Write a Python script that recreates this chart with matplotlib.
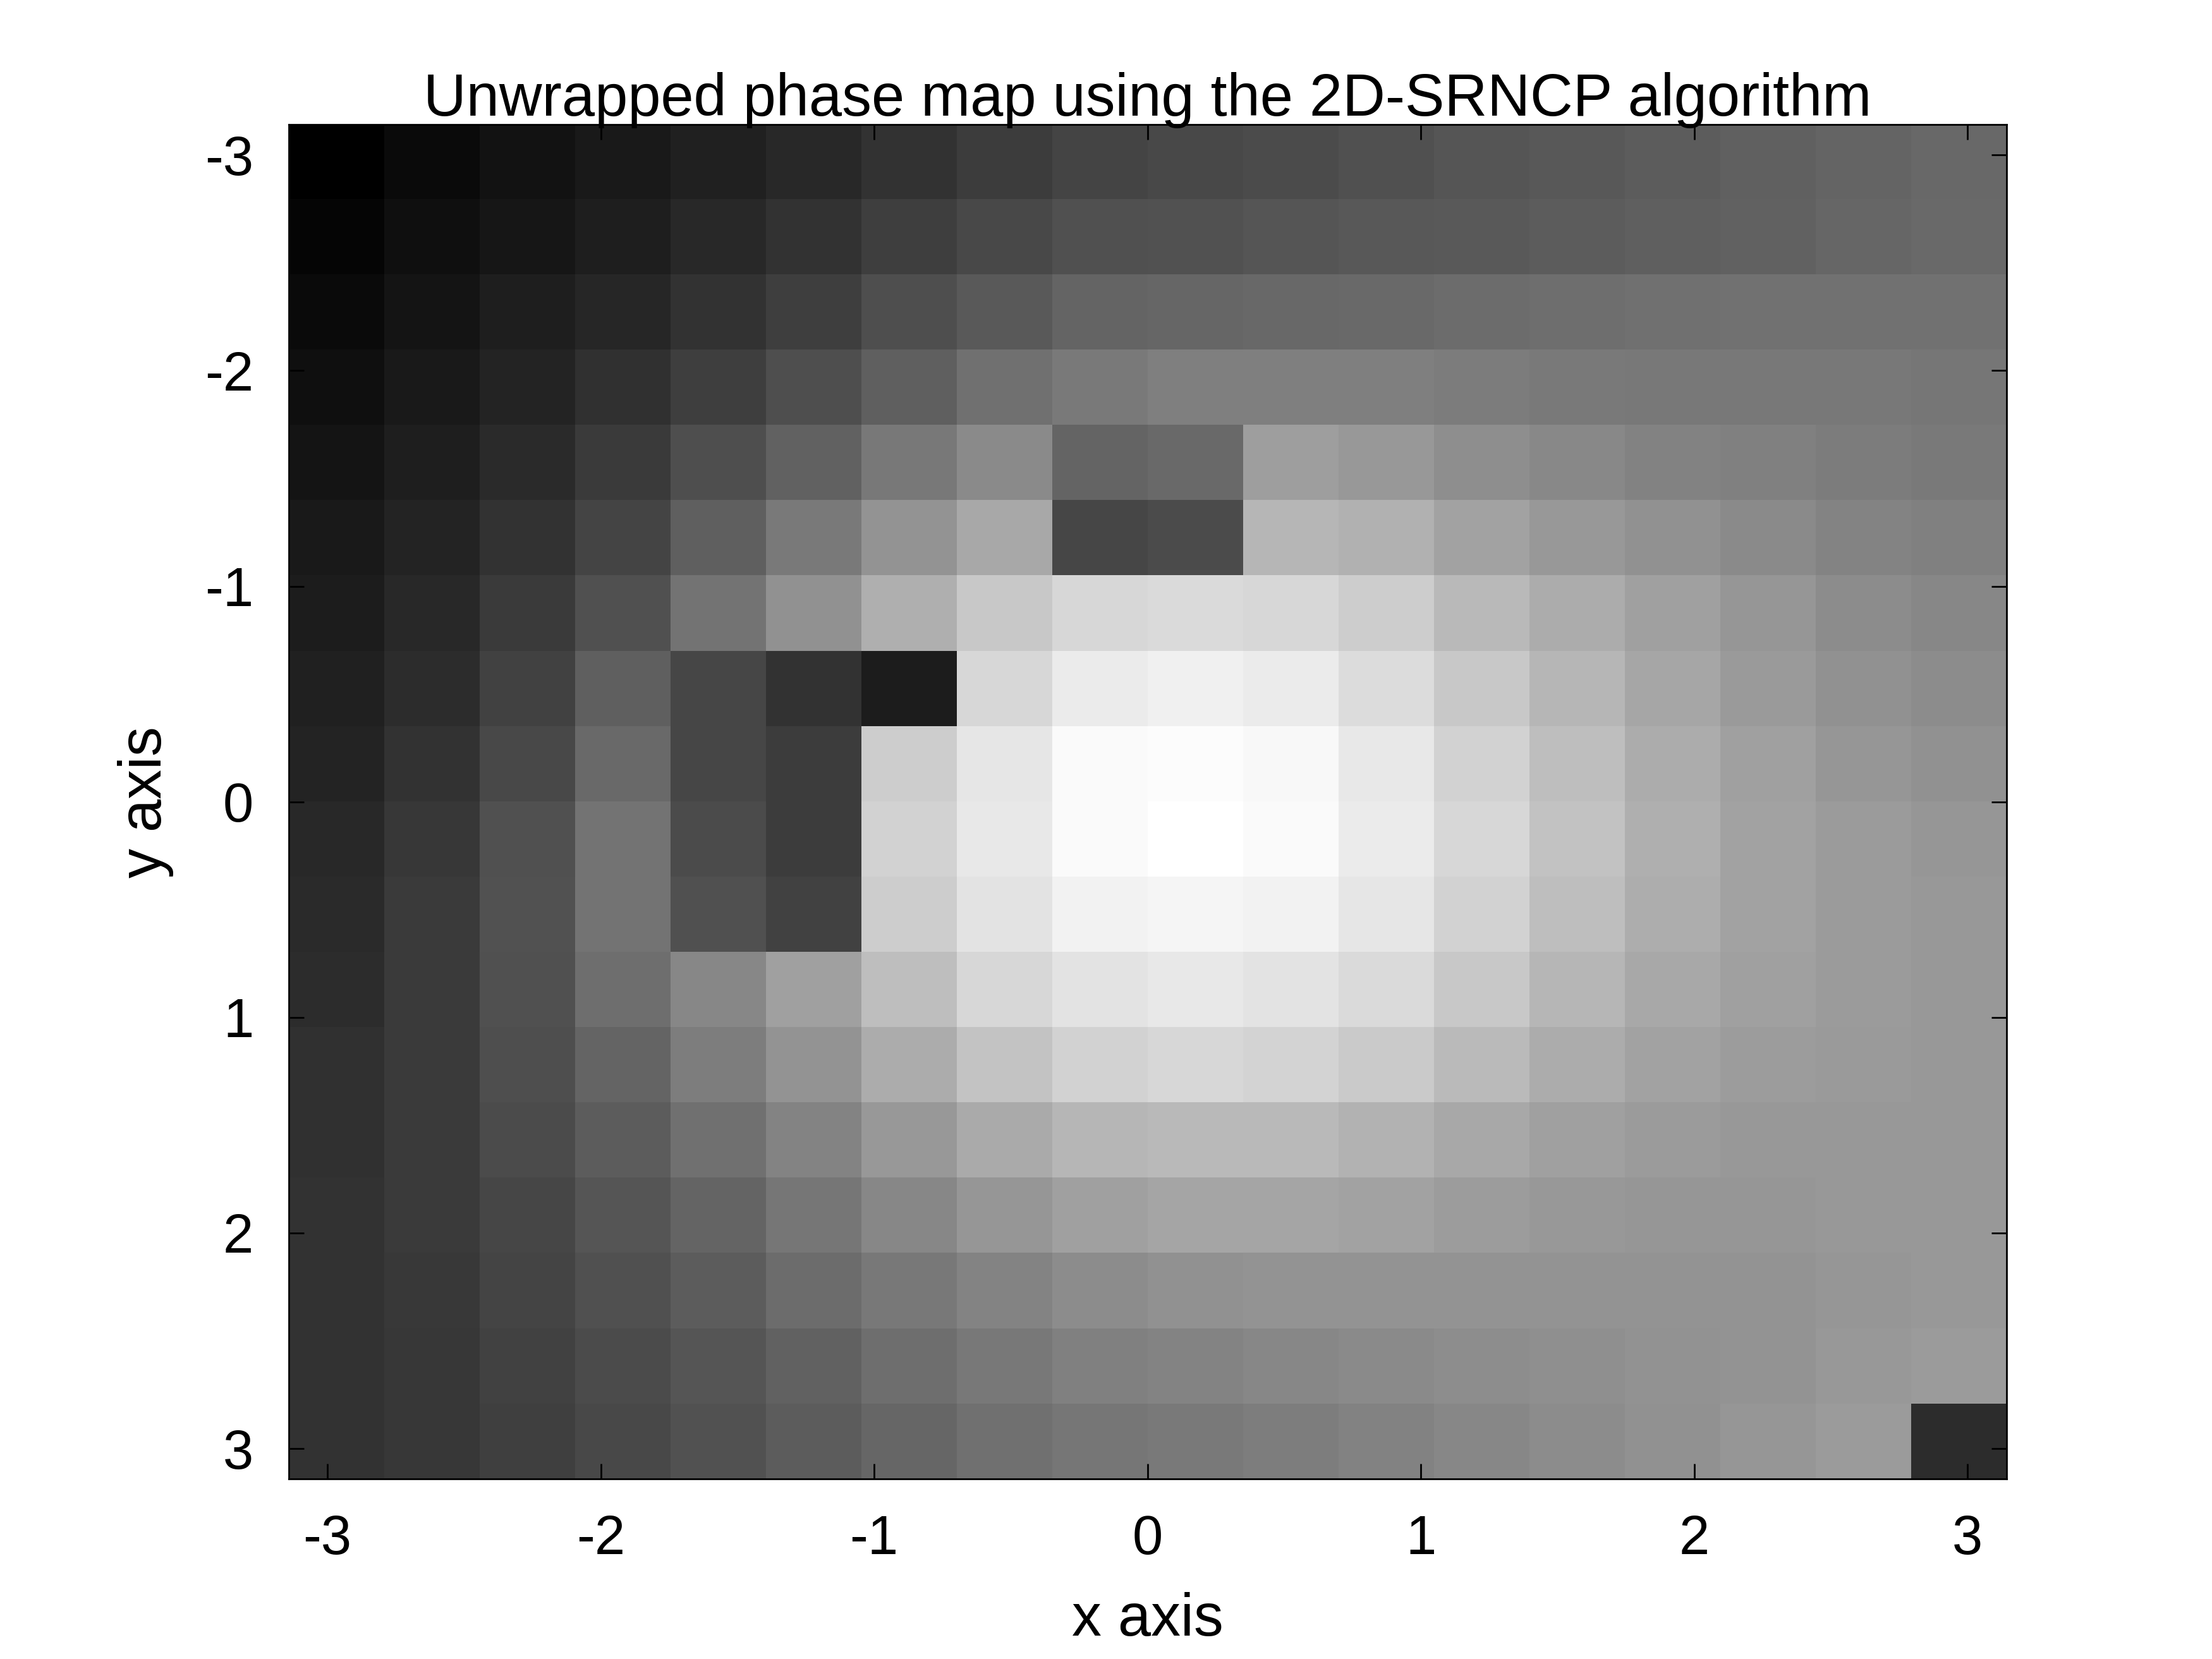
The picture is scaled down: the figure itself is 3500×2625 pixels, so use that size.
import numpy as np
import matplotlib
matplotlib.use('Agg')
import matplotlib.pyplot as plt

plt.rcParams['font.family'] = ['Liberation Sans', 'DejaVu Sans']

# gray levels, row 0 = top (y = -pi)
phase = np.array([
    [0, 10, 18, 25, 32, 40, 50, 60, 68, 72, 75, 80, 85, 88, 92, 96, 100, 104],
    [5, 15, 22, 30, 40, 50, 62, 72, 80, 82, 85, 88, 90, 92, 95, 98, 102, 106],
    [10, 20, 30, 38, 50, 62, 78, 90, 100, 102, 104, 106, 108, 110, 112, 114, 114, 114],
    [15, 25, 35, 48, 62, 78, 95, 112, 122, 127, 127, 127, 124, 122, 120, 120, 120, 118],
    [20, 30, 42, 58, 78, 98, 120, 138, 100, 105, 158, 152, 142, 136, 130, 128, 124, 122],
    [25, 35, 50, 68, 95, 122, 148, 168, 70, 75, 182, 177, 162, 152, 145, 138, 132, 128],
    [28, 40, 58, 80, 115, 145, 175, 200, 215, 218, 215, 205, 185, 172, 160, 150, 140, 135],
    [32, 45, 65, 95, 70, 50, 28, 215, 235, 240, 235, 220, 200, 182, 166, 154, 145, 140],
    [35, 50, 72, 105, 70, 60, 205, 230, 250, 252, 248, 232, 210, 190, 172, 160, 150, 145],
    [40, 55, 80, 115, 75, 60, 210, 232, 250, 255, 250, 235, 215, 194, 175, 162, 155, 150],
    [42, 58, 82, 115, 80, 65, 205, 228, 242, 245, 242, 230, 210, 190, 173, 162, 155, 152],
    [45, 58, 80, 110, 135, 160, 190, 215, 228, 232, 228, 218, 200, 182, 168, 160, 155, 152],
    [48, 58, 78, 100, 125, 148, 172, 195, 210, 215, 212, 202, 186, 172, 162, 156, 154, 152],
    [48, 58, 75, 92, 112, 132, 152, 170, 182, 185, 185, 178, 168, 160, 155, 152, 152, 152],
    [50, 58, 70, 85, 100, 118, 135, 150, 160, 165, 165, 162, 156, 152, 150, 150, 152, 152],
    [50, 56, 68, 80, 92, 108, 120, 132, 140, 145, 148, 148, 148, 147, 147, 148, 150, 152],
    [50, 55, 65, 75, 85, 98, 110, 120, 128, 132, 135, 138, 141, 143, 146, 148, 152, 155],
    [50, 55, 63, 72, 82, 92, 102, 112, 118, 122, 125, 130, 135, 140, 145, 150, 155, 45],
], dtype=float)

ticks = [-3, -2, -1, 0, 1, 2, 3]

fig = plt.figure(figsize=(14, 10.5), dpi=250)
ax = fig.add_axes([0.1305, 0.1084, 0.7765, 0.8166])
ax.imshow(phase, cmap='gray', vmin=0, vmax=255, aspect='auto',
          extent=[-np.pi, np.pi, np.pi, -np.pi], interpolation='nearest')
ax.set_xticks(ticks)
ax.set_yticks(ticks)
ax.tick_params(direction='in', top=True, right=True, labelsize=25, length=7, pad=16)
ax.set_xticklabels([str(t) for t in ticks])
ax.set_yticklabels([str(t) for t in ticks])
ax.set_xlabel('x axis', fontsize=27, labelpad=12)
ax.set_ylabel('y axis', fontsize=27, labelpad=14)
ax.set_title('Unwrapped phase map using the 2D-SRNCP algorithm', fontsize=27, pad=4)
fig.savefig('out.png')
